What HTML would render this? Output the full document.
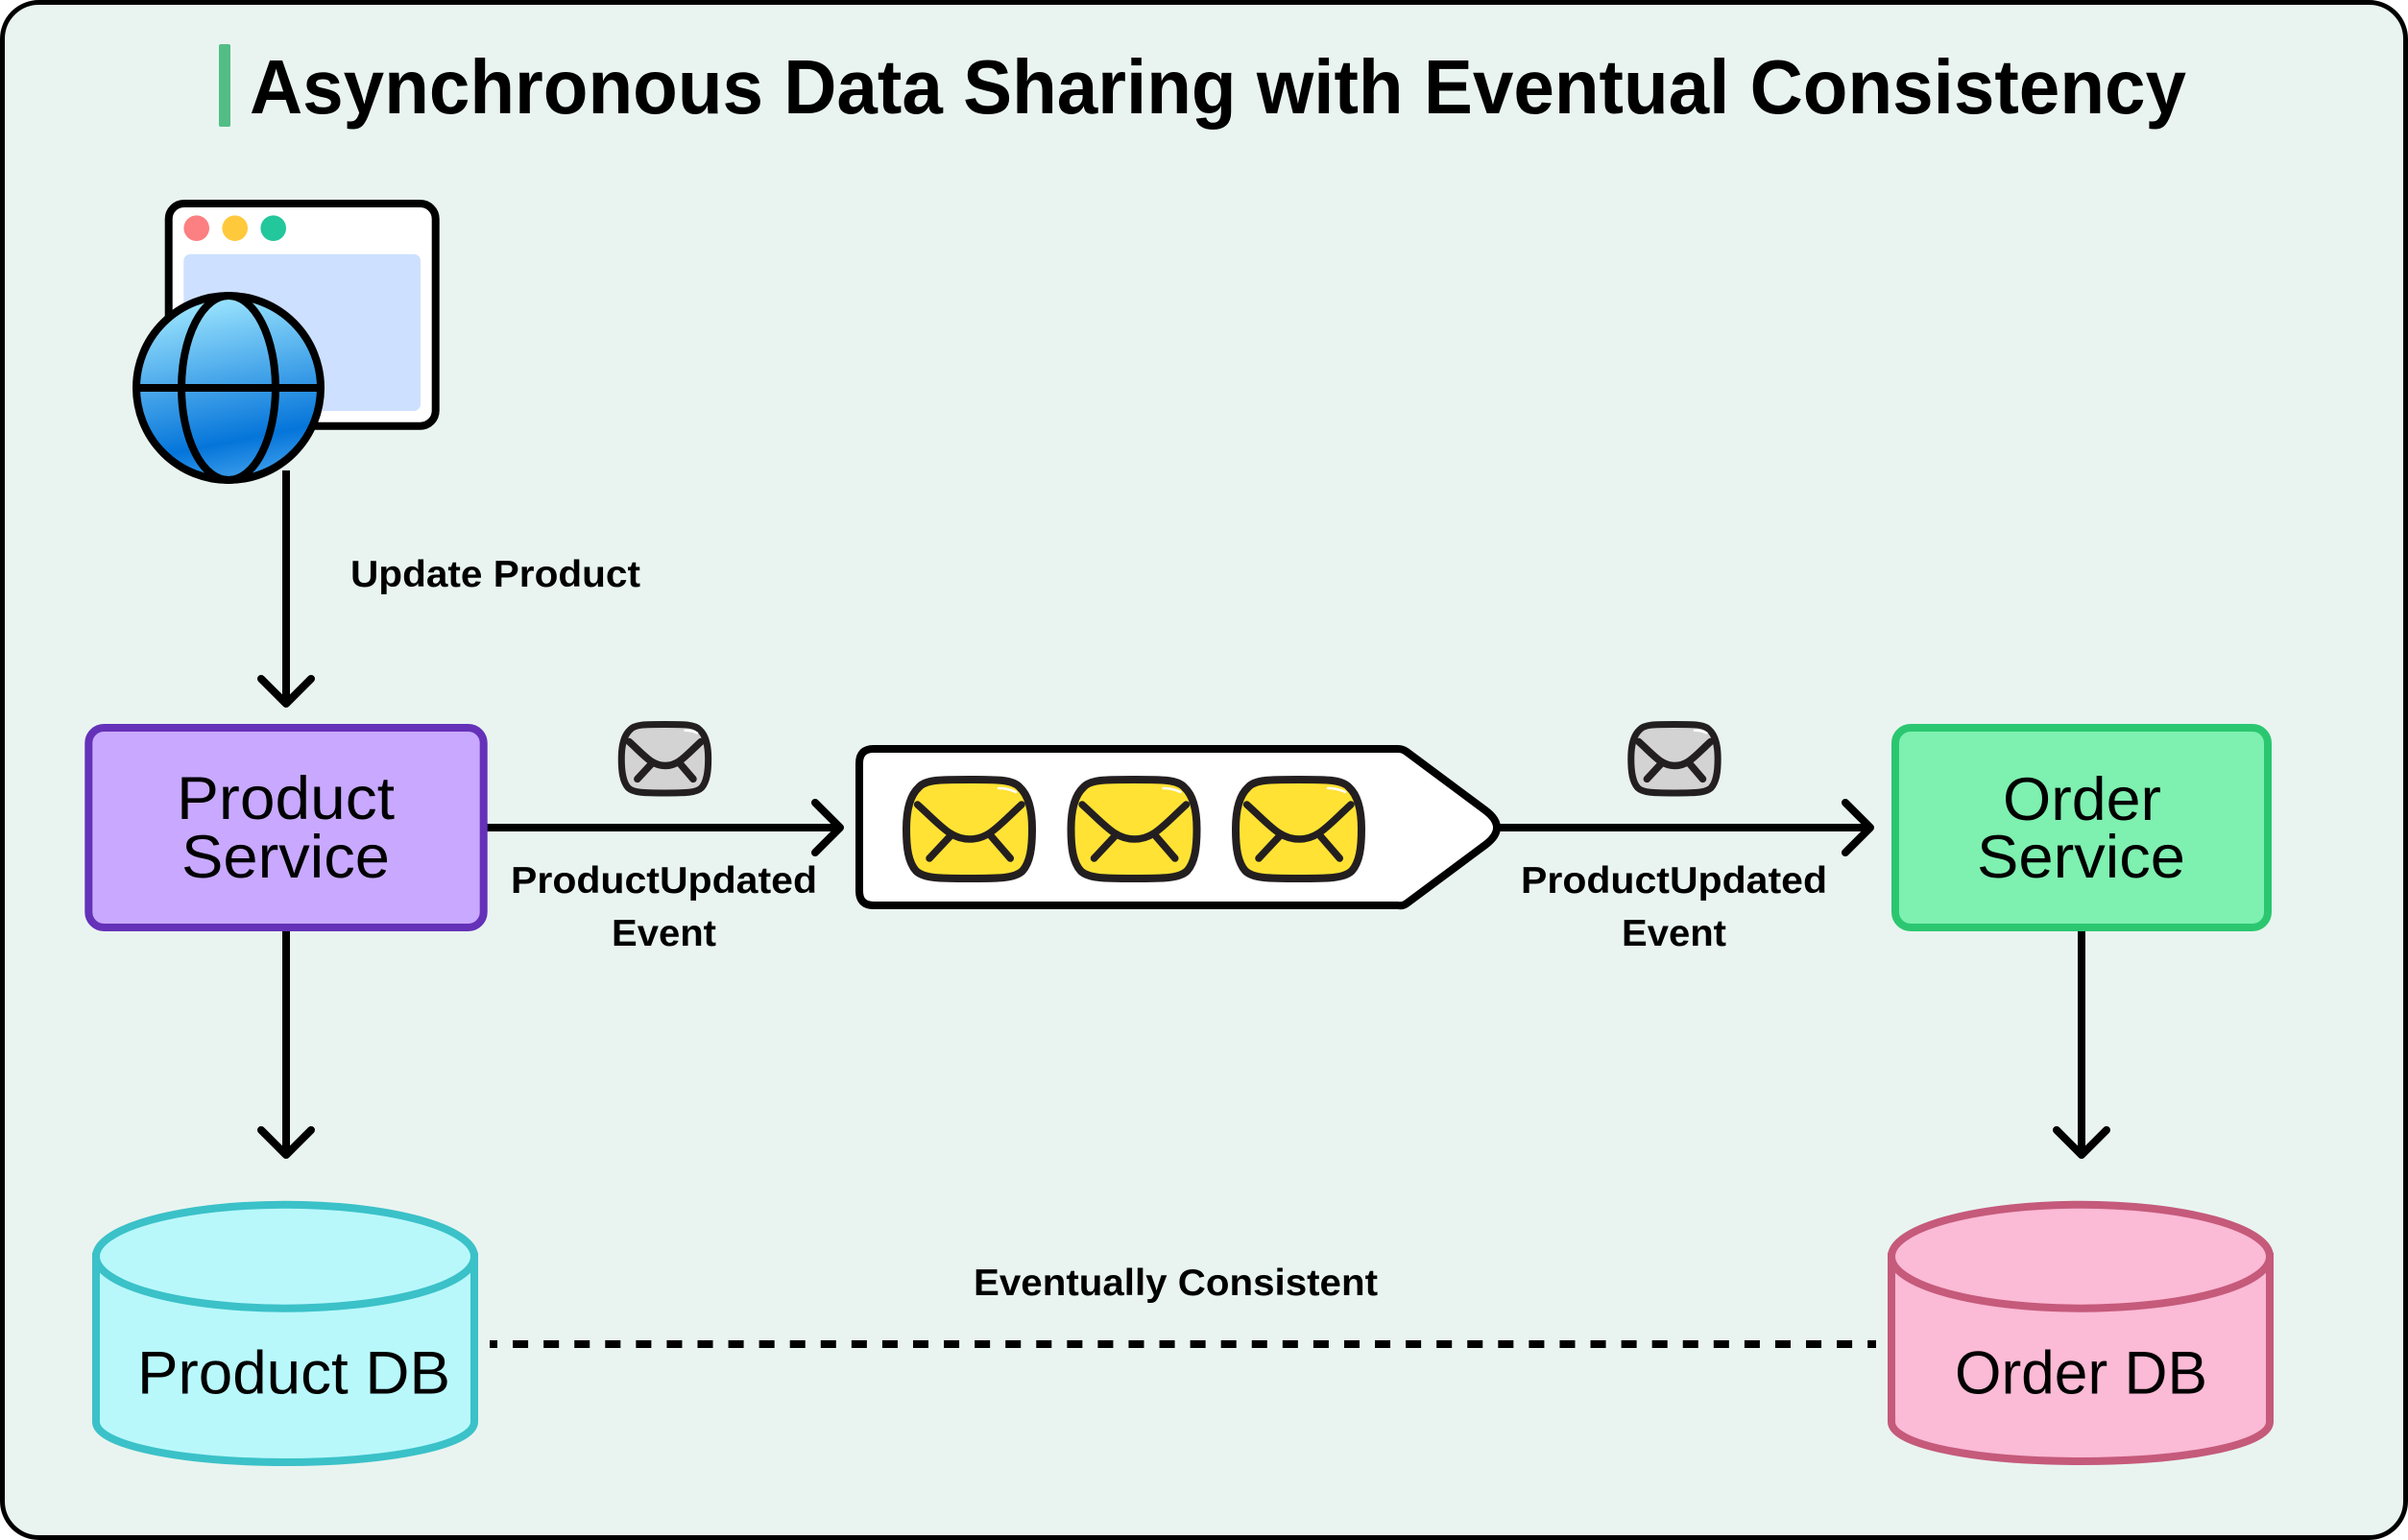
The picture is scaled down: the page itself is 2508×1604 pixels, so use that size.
<!DOCTYPE html>
<html lang="en">
<head>
<meta charset="utf-8">
<title>Asynchronous Data Sharing with Eventual Consistency</title>
<style>
html,body{margin:0;padding:0;background:#fff;width:2508px;height:1604px;overflow:hidden}
svg{display:block}
text{font-family:"Liberation Sans",sans-serif;fill:#000}
.l{font-size:39px;font-weight:700;stroke:#000;stroke-width:0}
.n{font-size:63px}
.a{fill:none;stroke:#000;stroke-width:8;stroke-linecap:round;stroke-linejoin:round}
.s{fill:none;stroke:#000;stroke-width:8}
</style>
</head>
<body>
<svg width="2508" height="1604" viewBox="0 0 2508 1604" xmlns="http://www.w3.org/2000/svg">
<defs>
<linearGradient id="g" gradientUnits="userSpaceOnUse" x1="222" y1="305" x2="262" y2="505">
<stop offset="0" stop-color="#A0E8FF"/>
<stop offset=".765" stop-color="#0575DA"/>
<stop offset="1" stop-color="#47A5EE"/>
</linearGradient>
<g id="env">
<path vector-effect="non-scaling-stroke" d="M69.5 4C100 4 115 4 122 12C133 22 135 40 135 55.5C135 75 133 90 125 99C117 107 100 107 69.5 107C39 107 22 107 14 99C6 90 4 75 4 55.5C4 40 6 22 17 12C24 4 39 4 69.5 4Z"/>
<path vector-effect="non-scaling-stroke" fill="none" stroke-width="7.5" stroke-linecap="round" d="M15.6 30C40 52 50 66 70 66C90 66 100 52 124 30M50.5 62L28 86M91.5 62L112.3 86"/>
<path vector-effect="non-scaling-stroke" fill="none" stroke="#fff" stroke-width="2.5" stroke-linecap="round" d="M100 13Q110 13 118 17"/>
</g>
</defs>

<rect x="2.5" y="2.5" width="2503" height="1599" rx="38" fill="#E9F4F0" stroke="#000" stroke-width="5"/>

<rect x="228" y="46" width="12" height="86" rx="2" fill="#52BE85"/>
<text x="260" y="118" font-size="80" font-weight="700" textLength="2017" lengthAdjust="spacingAndGlyphs">Asynchronous Data Sharing with Eventual Consistency</text>

<!-- browser -->
<rect x="175.7" y="212" width="278" height="231.7" rx="16" fill="#fff" stroke="#000" stroke-width="8"/>
<circle cx="204.7" cy="237.7" r="13.3" fill="#FC7F81"/>
<circle cx="244.7" cy="237.7" r="13.3" fill="#FFC93C"/>
<circle cx="284.7" cy="237.7" r="13.3" fill="#22C79B"/>
<rect x="191.3" y="264.7" width="246.7" height="163.3" rx="7" fill="#CDE0FF"/>
<circle cx="238" cy="404" r="96" fill="url(#g)" stroke="#000" stroke-width="8"/>
<ellipse cx="238" cy="404" rx="49" ry="96" fill="none" stroke="#000" stroke-width="8"/>
<line x1="142" y1="404" x2="334" y2="404" stroke="#000" stroke-width="8"/>

<!-- connectors -->
<line class="s" x1="298" y1="490" x2="298" y2="730"/>
<path class="a" d="M272 707L298 733L324 707"/>
<text class="l" x="365" y="611" textLength="302" lengthAdjust="spacingAndGlyphs">Update Product</text>

<line class="s" x1="506" y1="862" x2="873" y2="862"/>
<path class="a" d="M849 836L875 862L849 888"/>
<line class="s" x1="1560" y1="862" x2="1945" y2="862"/>
<path class="a" d="M1922 836L1948 862L1922 888"/>
<line class="s" x1="298" y1="968" x2="298" y2="1200"/>
<path class="a" d="M272 1177L298 1203L324 1177"/>
<line class="s" x1="2168" y1="968" x2="2168" y2="1200"/>
<path class="a" d="M2142 1177L2168 1203L2194 1177"/>
<line x1="510" y1="1400" x2="1954" y2="1400" stroke="#000" stroke-width="8" stroke-dasharray="16.03 16.04" stroke-dashoffset="8"/>

<!-- services -->
<rect x="92.3" y="758" width="411.4" height="208" rx="16" fill="#C8A9FF" stroke="#6431B8" stroke-width="8"/>
<text class="n" x="184" y="853" textLength="227" lengthAdjust="spacingAndGlyphs">Product</text>
<text class="n" x="189" y="914" textLength="217" lengthAdjust="spacingAndGlyphs">Service</text>
<rect x="1974" y="758" width="388" height="208" rx="16" fill="#7EF0B0" stroke="#2BC770" stroke-width="8"/>
<text class="n" x="2086" y="854" textLength="165" lengthAdjust="spacingAndGlyphs">Order</text>
<text class="n" x="2059" y="914" textLength="217" lengthAdjust="spacingAndGlyphs">Service</text>

<!-- queue -->
<path d="M910 780H1456Q1461 780 1465 783L1547 844Q1559 853 1559 862Q1559 871 1547 880L1465 941Q1461 944 1456 943H910Q895 943 895 928V795Q895 780 910 780Z" fill="#fff" stroke="#000" stroke-width="8"/>
<g fill="#FFE234" stroke="#231F20" stroke-width="8">
<use href="#env" transform="translate(940 808)"/>
<use href="#env" transform="translate(1111.5 808)"/>
<use href="#env" transform="translate(1283 808)"/>
</g>
<g fill="#D3D3D3" stroke="#231F20" stroke-width="7">
<use href="#env" transform="translate(644.5 751.7) scale(.69 .694)"/>
<use href="#env" transform="translate(1696 751.7) scale(.69 .694)"/>
</g>

<!-- labels -->
<text class="l" x="532" y="930" textLength="319" lengthAdjust="spacingAndGlyphs">ProductUpdated</text>
<text class="l" x="637" y="985" textLength="109" lengthAdjust="spacingAndGlyphs">Event</text>
<text class="l" x="1584" y="930" textLength="319" lengthAdjust="spacingAndGlyphs">ProductUpdated</text>
<text class="l" x="1689" y="985" textLength="109" lengthAdjust="spacingAndGlyphs">Event</text>
<text class="l" x="1014" y="1349" textLength="421" lengthAdjust="spacingAndGlyphs">Eventually Consistent</text>

<!-- DBs -->
<path d="M100 1308.7V1481C100 1505 188 1523 297 1523C406 1523 494 1505 494 1481V1308.7Z" fill="#B8F8FB" stroke="#3BC1C8" stroke-width="8"/>
<ellipse cx="297" cy="1308.7" rx="197" ry="54" fill="#B8F8FB" stroke="#3BC1C8" stroke-width="8"/>
<text class="n" x="143" y="1451.7" textLength="326" lengthAdjust="spacingAndGlyphs">Product DB</text>
<path d="M1970 1308.7V1481C1970 1505 2058 1522 2167 1522C2276 1522 2364 1505 2364 1481V1308.7Z" fill="#FBBAD5" stroke="#C55A7B" stroke-width="8"/>
<ellipse cx="2167" cy="1308.7" rx="197" ry="54" fill="#FBBAD5" stroke="#C55A7B" stroke-width="8"/>
<text class="n" x="2036" y="1451.7" textLength="263" lengthAdjust="spacingAndGlyphs">Order DB</text>
</svg>
</body>
</html>
